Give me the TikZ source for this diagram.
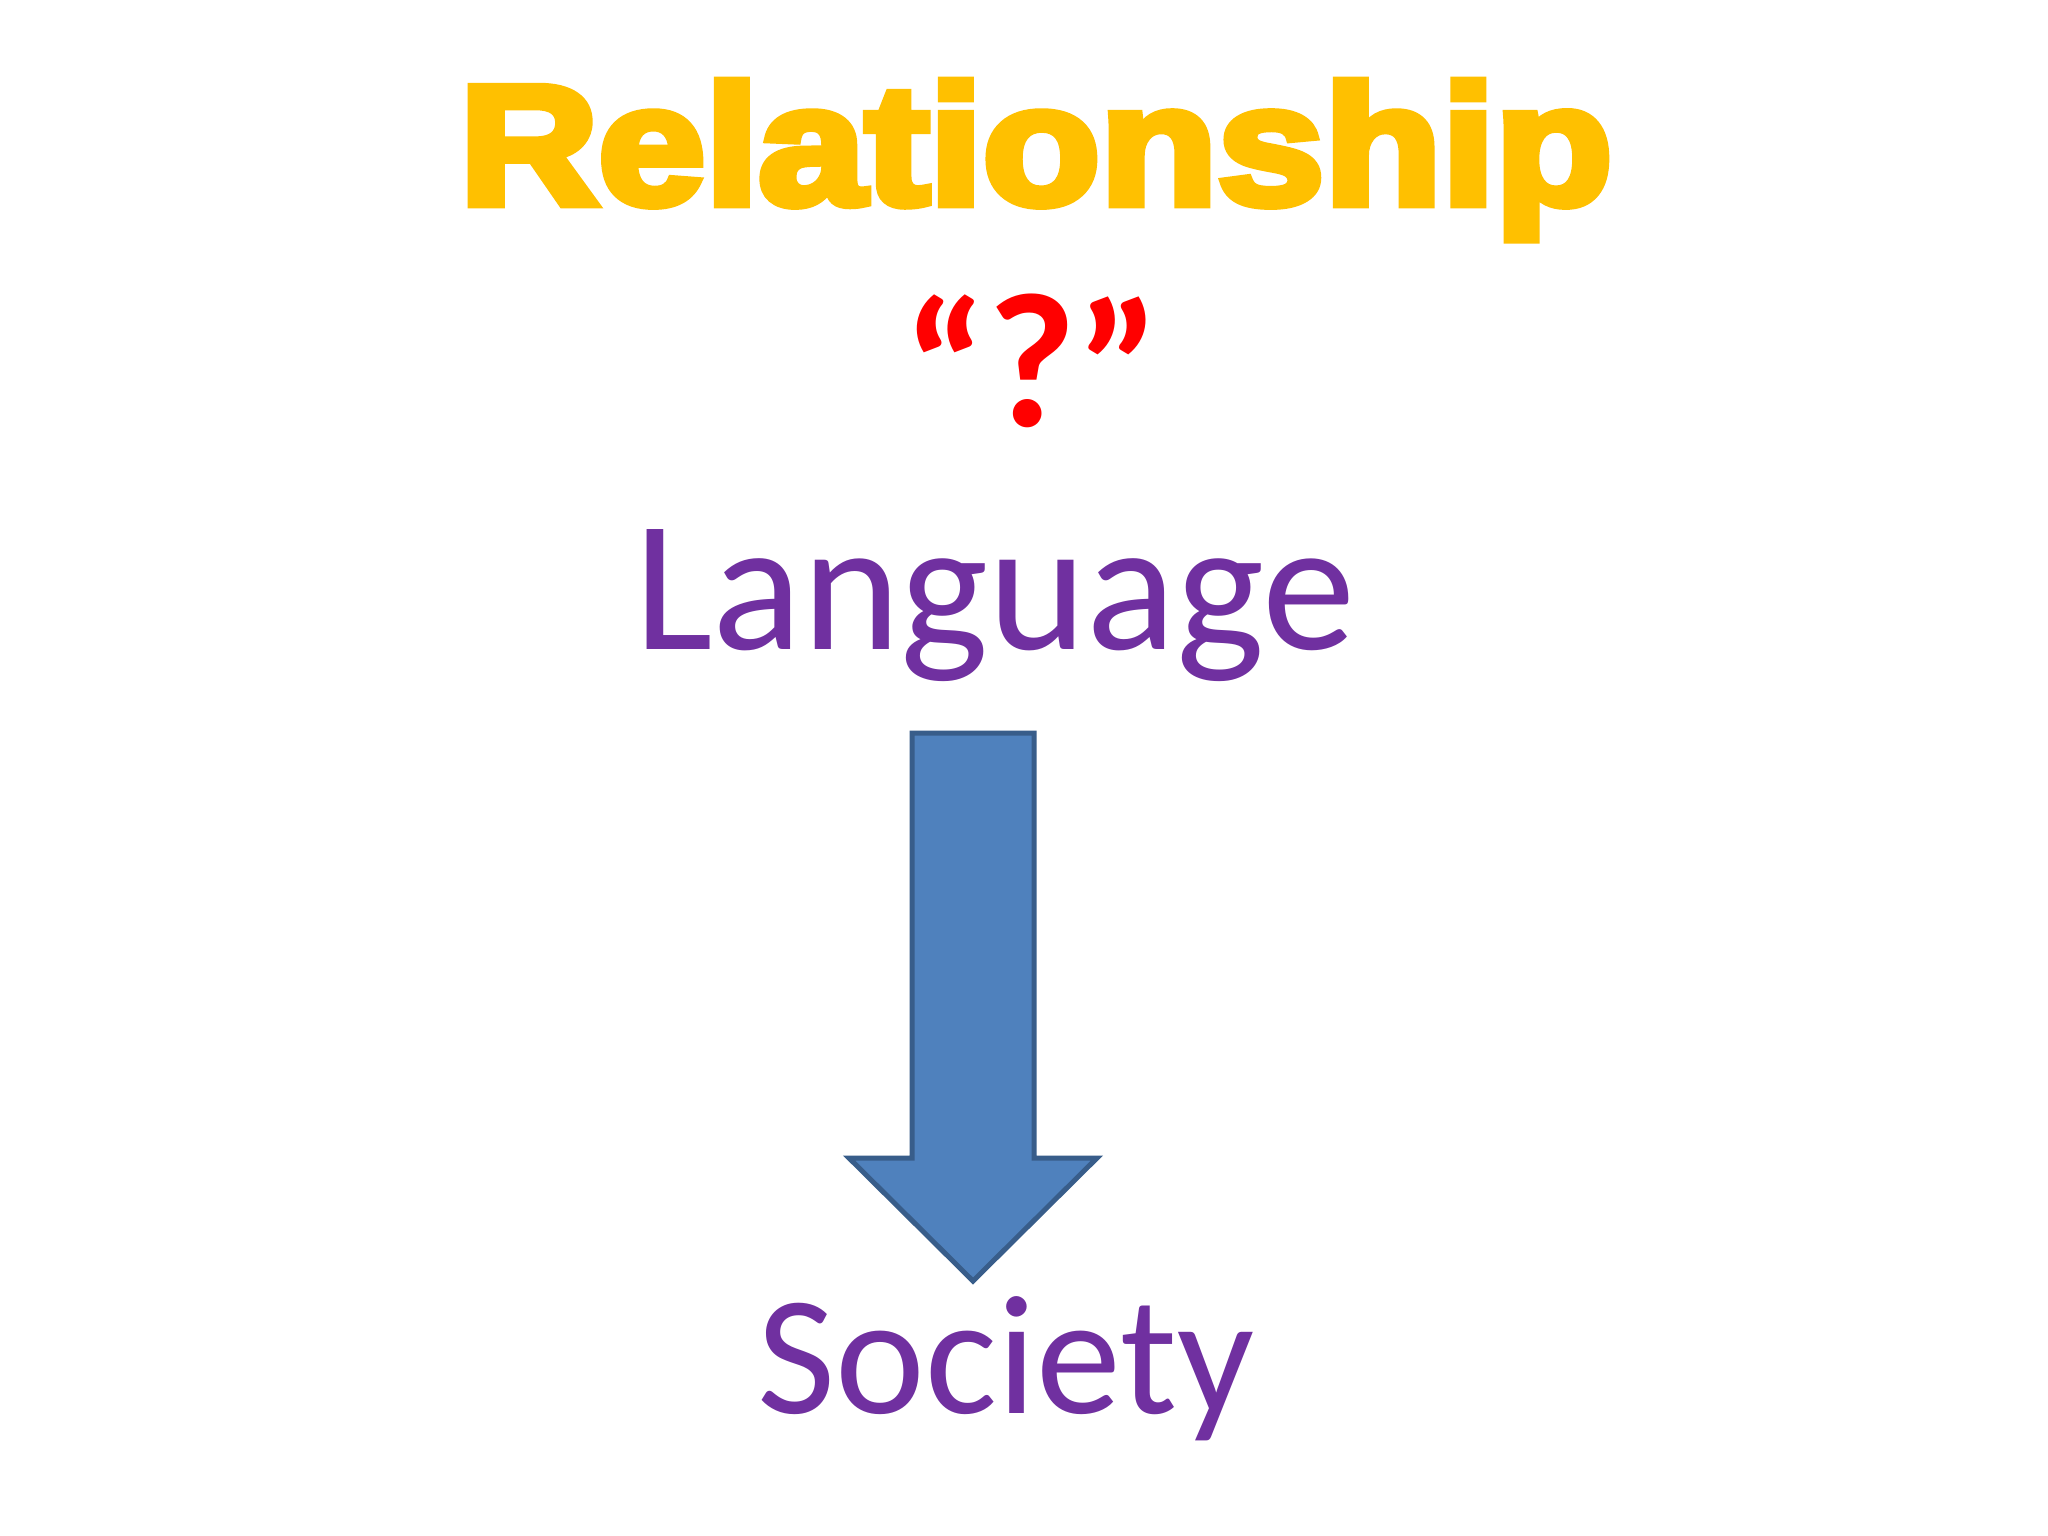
\documentclass[tikz,border=0pt]{standalone}
\usepackage{fontspec}
\setmainfont{Carlito}
\newfontfamily\heavyfont[FakeBold=5]{Liberation Sans Bold}
\definecolor{gold}{HTML}{FFC000}
\definecolor{qred}{HTML}{FF0000}
\definecolor{violet}{HTML}{7030A0}
\definecolor{arrowfill}{HTML}{4F81BD}
\definecolor{arrowline}{HTML}{385D8A}
\tikzset{
  word/.style={inner sep=0pt, anchor=base, text=violet},
  blockarrow/.style={fill=arrowfill, draw=arrowline, line width=5pt, line join=miter}
}
\begin{document}
\begin{tikzpicture}[x=1pt,y=-1pt]
\useasboundingbox[fill=white] (0,0) rectangle (2048,1536);
\node[inner sep=0pt, anchor=base, text=gold, xscale=1.13] (title) at (1036,204)
  {\fontsize{170}{180}\heavyfont Relationship};
\node[inner sep=0pt, anchor=base, text=qred] (quest) at (1032,426)
  {\fontsize{192}{200}\selectfont\bfseries \raisebox{-10pt}{“}?\raisebox{-10pt}{”}};
\node[word] (lang) at (995,649) {\fontsize{187}{190}\selectfont Language};
\node[word] (soc) at (1006,1413) {\fontsize{170}{180}\selectfont Society};
\draw[blockarrow] (912,733) -- (1034,733) -- (1034,1158) -- (1097,1158)
  -- (973,1281) -- (849,1158) -- (912,1158) -- cycle;
\end{tikzpicture}
\end{document}
